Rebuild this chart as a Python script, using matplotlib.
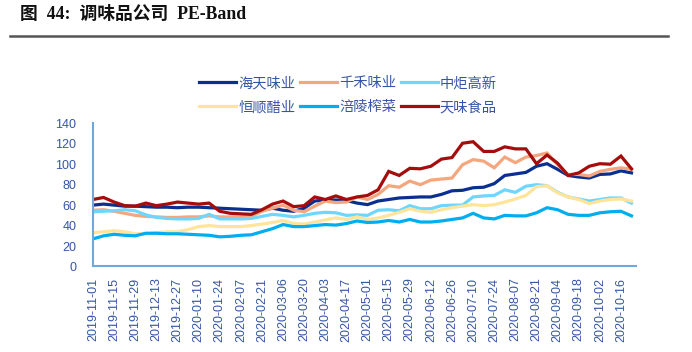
import matplotlib
matplotlib.use("Agg")
import matplotlib.pyplot as plt
import matplotlib.dates as mdates
from matplotlib.lines import Line2D
import pandas as pd

# weekly PE values, 2019-11-01 .. 2020-10-23
dates = pd.date_range("2019-11-01", periods=52, freq="7D")

haitian = [60, 61, 60, 59, 59, 58.5, 58, 58, 57.5, 58,
           58, 57.5, 57, 56.5, 56, 55.5, 55, 57, 55, 54,
           57, 64, 65, 65, 64.5, 62, 60.5, 64, 65.5, 67,
           67.5, 68, 68, 70.5, 74, 74.5, 77, 77.5, 81, 89,
           90.5, 92, 98, 100.5, 95, 89, 87.5, 86.5, 90, 90.5,
           93.5, 91.5]
qianhe = [55, 55.5, 54, 52, 50, 49, 48.5, 48, 48, 48.5,
          48.5, 49.5, 48.5, 48.5, 48.5, 49, 54, 57, 60, 55,
          53.5, 59, 64, 62.5, 63, 68, 65.5, 70.5, 79, 77.5,
          83.5, 80, 84.5, 85.5, 86.5, 99.5, 104.5, 103, 96.5, 107,
          101.5, 107, 108.5, 111, 99.5, 90, 90, 88.5, 93, 95,
          96.5, 95]
zhongju = [53.5, 54, 54.5, 55.5, 54.5, 50.5, 48, 47, 46.5, 46.5,
           47, 51, 46.5, 46.5, 46.5, 47, 49, 51, 50, 48.5,
           50, 52, 53, 52.5, 50, 50.5, 50, 55, 55.5, 54.5,
           59.5, 56.5, 56.5, 59.5, 60, 60, 68, 69, 69.5, 75,
           72.5, 78.5, 80, 79, 72.5, 68, 66, 64, 65.5, 67,
           67, 62]
hengshun = [33, 34, 35, 34, 32, 32, 33, 34, 34, 36,
            39, 40, 39, 39, 39, 40, 41.5, 43, 45, 42,
            41.5, 43.5, 45.5, 47.5, 46, 48.5, 46, 47.5, 50, 53,
            56.5, 54, 53, 55.5, 57.5, 59, 60.5, 59.5, 60.5, 63,
            66, 69.5, 78, 79, 72, 68, 65.5, 61.5, 64, 65.5,
            66, 64]
fuling = [27, 30, 31.5, 30.5, 30, 32.5, 32.5, 32, 32, 31.5,
          31, 30.5, 29, 29.5, 30.5, 31, 34, 37, 41, 39,
          39, 40, 41, 40.5, 42, 44.5, 43, 43.5, 45, 43.5,
          46, 43.5, 43.5, 44.5, 46, 47.5, 52, 47.5, 46.5, 50,
          49.5, 49.5, 52.5, 57.5, 55.5, 51, 50, 50, 52.5, 53.5,
          54, 49.5]
tianwei = [65.5, 67.5, 63, 59.5, 59, 62, 59.5, 61, 63, 62,
           61, 62, 54, 52, 51.5, 51, 55.5, 61, 64, 58.5,
           59.5, 68, 65.5, 69, 65.5, 68, 69.5, 75, 93, 89,
           96, 95.5, 98, 105, 106.5, 120.5, 122, 112.5, 112.5, 117,
           115, 115, 100.5, 109, 101, 89, 91.5, 98, 100.5, 100,
           108, 95.5]

names = ["海天味业", "千禾味业", "中炬高新", "恒顺醋业", "涪陵榨菜", "天味食品"]
series = [haitian, qianhe, zhongju, hengshun, fuling, tianwei]
colors = ["#0B2F8E", "#F4A67E", "#6FD6FF", "#FFE49A", "#00AEEF", "#A50D0D"]

label_blue = "#3556A6"
axis_blue = "#6FA8DC"

fig = plt.figure(figsize=(6.92, 3.52), dpi=100)
ax = fig.add_axes([0.1344, 0.2429, 0.7847, 0.4068])

lines = []
for name, vals, c in zip(names, series, colors):
    ln, = ax.plot(dates, vals, color=c, lw=2.3, label=name, solid_joinstyle="miter")
    lines.append(ln)

ax.set_ylim(0, 140)
ax.set_yticks(range(0, 141, 20))
ax.set_xlim(dates[0], dates[-1] + pd.Timedelta(days=3))

tick_dates = pd.date_range("2019-11-01", "2020-10-16", freq="14D")
ax.set_xticks(tick_dates)
ax.xaxis.set_major_formatter(mdates.DateFormatter("%Y-%m-%d"))

for lab in ax.get_xticklabels() + ax.get_yticklabels():
    lab.set_fontfamily("Liberation Sans")
    lab.set_color(label_blue)
    lab.set_fontsize(9)
plt.setp(ax.get_xticklabels(), rotation=90)
ax.tick_params(axis="x", length=0, pad=8)
ax.tick_params(axis="y", length=0, pad=12)

for s in ["top", "right"]:
    ax.spines[s].set_visible(False)
for s in ["left", "bottom"]:
    ax.spines[s].set_color(axis_blue)
    ax.spines[s].set_linewidth(1.5)

# legend is filled row by row in the reference, matplotlib fills columns
order = [0, 3, 1, 4, 2, 5]
fig.legend([lines[k] for k in order], [names[k] for k in order],
           loc="center", bbox_to_anchor=(0.503, 0.73), ncol=3, frameon=False,
           prop={"family": "Noto Sans CJK SC", "size": 10.3},
           labelcolor=label_blue, handlelength=2.6, handletextpad=0.15,
           columnspacing=0.3, labelspacing=0.7, borderpad=0)

fig.text(20 / 692, 1 - 14.5 / 352, "图  44:  调味品公司  PE-Band",
         family=["Liberation Serif", "Noto Sans CJK SC"], fontweight="bold",
         fontsize=12.8, va="center", ha="left", color="#111111")
fig.add_artist(Line2D([10 / 692, 668 / 692], [1 - 35.5 / 352] * 2,
                      color="#555555", lw=1.8))

fig.savefig("out.png", dpi=100)
